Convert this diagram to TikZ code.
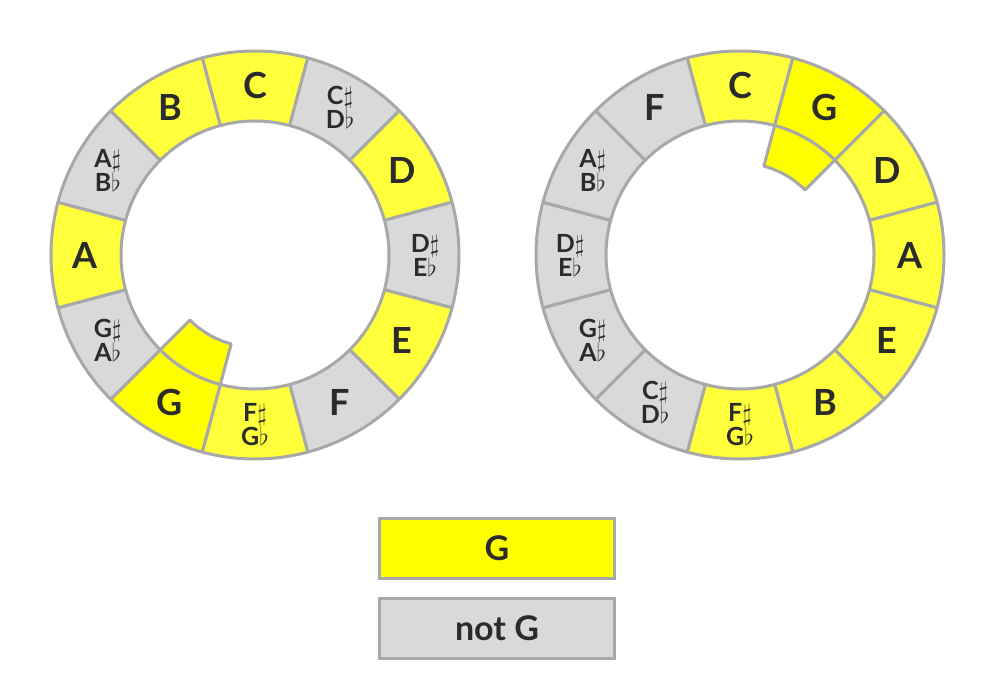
\documentclass[tikz,border=0pt]{standalone}
\usepackage{fontspec}
\setmainfont{Lato}
\begin{document}
\begin{tikzpicture}[x=1pt,y=1pt,
  seg/.style={draw=edge,line width=3pt,line join=round},
  big/.style={font=\fontsize{36}{36}\selectfont\bfseries,text=txt},
  two/.style={font=\fontsize{25}{24}\selectfont\bfseries,text=txt,align=center},
  leg/.style={draw=edge,line width=3pt,minimum width=235pt,minimum height=60pt,inner sep=0pt,font=\fontsize{34}{34}\selectfont\bfseries,text=txt}]
\definecolor{edge}{HTML}{A8A8A8}
\definecolor{yel}{HTML}{FFFF3C}
\definecolor{gy}{HTML}{FFFF00}
\definecolor{gr}{HTML}{D9D9D9}
\definecolor{txt}{HTML}{2B2B2B}
\useasboundingbox (0,-687) rectangle (995,0);
\def\ri{134}\def\ro{204}\def\rl{170}
% left ring (chromatic)
\begin{scope}[shift={(255,-255)}]
\foreach \i/\c/\l [count=\n from 0] in {0/yel/C,1/gr/{C$\sharp$\\D$\flat$},2/yel/D,3/gr/{D$\sharp$\\E$\flat$},4/yel/E,5/gr/F,6/yel/{F$\sharp$\\G$\flat$},7/gy/G,8/gr/{G$\sharp$\\A$\flat$},9/yel/A,10/gr/{A$\sharp$\\B$\flat$},11/yel/B}{
  \pgfmathsetmacro\aa{75-30*\i}\pgfmathsetmacro\ab{105-30*\i}\pgfmathsetmacro\am{90-30*\i}
  \path[seg,fill=\c] (\aa:\ri) arc[start angle=\aa,end angle=\ab,radius=\ri] -- (\ab:\ro) arc[start angle=\ab,end angle=\aa,radius=\ro] -- cycle;
}
\path[seg,fill=gy] (225:\ri) arc[start angle=225,end angle=255,radius=\ri] -- (255:92) arc[start angle=255,end angle=225,radius=92] -- cycle;
\foreach \i/\l/\s in {0/C/big,1/{C$\sharp$\\D$\flat$}/two,2/D/big,3/{D$\sharp$\\E$\flat$}/two,4/E/big,5/F/big,6/{F$\sharp$\\G$\flat$}/two,7/G/big,8/{G$\sharp$\\A$\flat$}/two,9/A/big,10/{A$\sharp$\\B$\flat$}/two,11/B/big}{
  \pgfmathsetmacro\am{90-30*\i}
  \node[\s] (l\i) at (\am:\rl) {\l};
}
\end{scope}
% right ring (fifths)
\begin{scope}[shift={(740,-255)}]
\foreach \i/\c in {0/yel,1/gy,2/yel,3/yel,4/yel,5/yel,6/yel,7/gr,8/gr,9/gr,10/gr,11/gr}{
  \pgfmathsetmacro\aa{75-30*\i}\pgfmathsetmacro\ab{105-30*\i}
  \path[seg,fill=\c] (\aa:\ri) arc[start angle=\aa,end angle=\ab,radius=\ri] -- (\ab:\ro) arc[start angle=\ab,end angle=\aa,radius=\ro] -- cycle;
}
\path[seg,fill=gy] (45:\ri) arc[start angle=45,end angle=75,radius=\ri] -- (75:92) arc[start angle=75,end angle=45,radius=92] -- cycle;
\foreach \i/\l/\s in {0/C/big,1/G/big,2/D/big,3/A/big,4/E/big,5/B/big,6/{F$\sharp$\\G$\flat$}/two,7/{C$\sharp$\\D$\flat$}/two,8/{G$\sharp$\\A$\flat$}/two,9/{D$\sharp$\\E$\flat$}/two,10/{A$\sharp$\\B$\flat$}/two,11/F/big}{
  \pgfmathsetmacro\am{90-30*\i}
  \node[\s] (r\i) at (\am:\rl) {\l};
}
\end{scope}
\node[leg,fill=gy] (lg) at (497,-548) {G};
\node[leg,fill=gr] (ln) at (497,-628) {not G};
\end{tikzpicture}
\end{document}
